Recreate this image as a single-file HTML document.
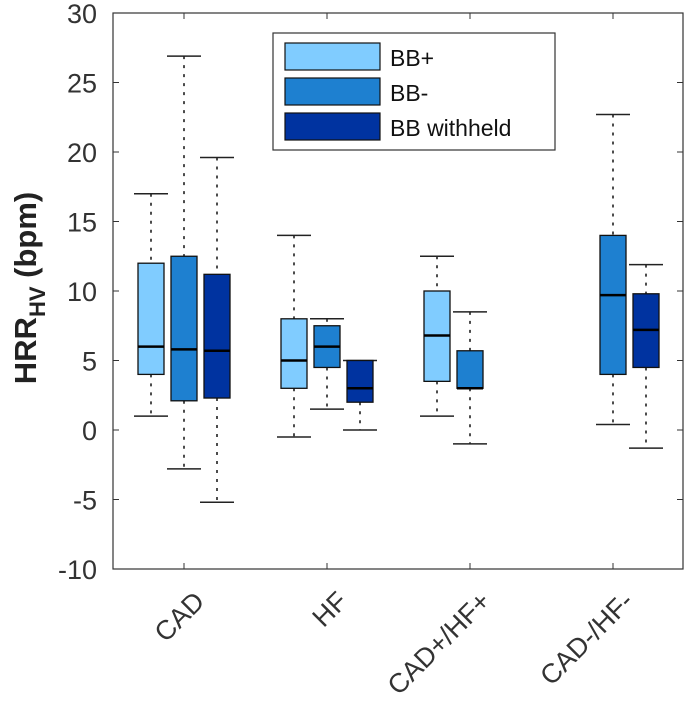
<!DOCTYPE html>
<html><head><meta charset="utf-8"><style>
body{margin:0;background:#fff;}
svg{display:block;font-family:"Liberation Sans",Arial,sans-serif;}
</style></head><body>
<svg id="chart" width="685" height="711" viewBox="0 0 685 711">
<g id="axes"></g><g id="boxes"></g>
<g>
<rect x="273" y="33" width="282" height="117" fill="#fff" stroke="#333" stroke-width="1.2"/>
<rect x="285" y="43" width="95" height="27" fill="#80ccff" stroke="#111" stroke-width="1.2"/>
<text x="390" y="66" font-size="23" fill="#111">BB+</text>
<rect x="285" y="78" width="95" height="27" fill="#1e80d0" stroke="#111" stroke-width="1.2"/>
<text x="390" y="101" font-size="23" fill="#111">BB-</text>
<rect x="285" y="113" width="95" height="27" fill="#0033a0" stroke="#111" stroke-width="1.2"/>
<text x="390" y="136" font-size="23" fill="#111">BB withheld</text>
</g>
<text transform="translate(36,288) rotate(-90)" text-anchor="middle" font-size="31" font-weight="bold" fill="#222">HRR<tspan font-size="22" dy="9">HV</tspan><tspan dy="-9"> (bpm)</tspan></text>
</svg>
<script>
const categories=["CAD","HF","CAD+/HF+","CAD-/HF-"];
const seriesNames=["BB+","BB-","BB withheld"];
const colors=["#80ccff","#1e80d0","#0033a0"];
const yTicks=[-10,-5,0,5,10,15,20,25,30];
// [categoryIndex, seriesIndex, min, q1, median, q3, max]
const boxStats=[
[0,0,1,4,6,12,17],
[0,1,-2.8,2.1,5.8,12.5,26.9],
[0,2,-5.2,2.3,5.7,11.2,19.6],
[1,0,-0.5,3,5,8,14],
[1,1,1.5,4.5,6,7.5,8],
[1,2,0,2,3,5,5],
[2,0,1,3.5,6.8,10,12.5],
[2,1,-1,3,3,5.7,8.5],
[3,1,0.4,4,9.7,14,22.7],
[3,2,-1.3,4.5,7.2,9.8,11.9]
];
const L=113,R=683,T=13,B=569,ymin=-10,ymax=30;
const y=v=>B-(v-ymin)/(ymax-ymin)*(B-T);
const x=i=>184+i*143;
const off=s=>(s-1)*33;
const NS="http://www.w3.org/2000/svg";
function mk(tag,attrs,parent){const e=document.createElementNS(NS,tag);for(const k in attrs)e.setAttribute(k,attrs[k]);parent.appendChild(e);return e;}
const ax=document.getElementById('axes');
const frame=mk('rect',{x:L,y:T,width:R-L,height:B-T,fill:'none',stroke:'#333','stroke-width':1.2},ax);


yTicks.forEach(v=>{
 const yy=y(v);
 mk('line',{x1:L,x2:L+6,y1:yy,y2:yy,stroke:'#333'},ax);
 mk('line',{x1:R-6,x2:R,y1:yy,y2:yy,stroke:'#333'},ax);
 const t=mk('text',{x:97,y:yy+10,'text-anchor':'end','font-size':27,fill:'#333'},ax);
 t.textContent=v;
 
 
});
categories.forEach((c,i)=>{
 const xx=x(i);
 mk('line',{x1:xx,x2:xx,y1:B,y2:B-6,stroke:'#333'},ax);
 mk('line',{x1:xx,x2:xx,y1:T,y2:T+6,stroke:'#333'},ax);
 const t=mk('text',{transform:`translate(${xx+22},${B+34}) rotate(-45)`,'text-anchor':'end','font-size':27,fill:'#333'},ax);
 t.textContent=c;
 
 
});
const bx=document.getElementById('boxes');
boxStats.forEach(d=>{
 const [ci,si,mn,q1,md,q3,mx]=d;
 const cx=x(ci)+off(si),w=26,cw=34;
 const g=mk('g',{},bx);
 
 
 mk('line',{x1:cx,x2:cx,y1:y(mx),y2:y(q3),stroke:'#111','stroke-width':1.5,'stroke-dasharray':'3,6'},g);
 mk('line',{x1:cx,x2:cx,y1:y(q1),y2:y(mn),stroke:'#111','stroke-width':1.5,'stroke-dasharray':'3,6'},g);
 mk('line',{x1:cx-cw/2,x2:cx+cw/2,y1:y(mx),y2:y(mx),stroke:'#222','stroke-width':1.5},g);
 mk('line',{x1:cx-cw/2,x2:cx+cw/2,y1:y(mn),y2:y(mn),stroke:'#222','stroke-width':1.5},g);
 mk('rect',{x:cx-w/2,y:y(q3),width:w,height:y(q1)-y(q3),fill:colors[si],stroke:'#111','stroke-width':1.3},g);
 mk('line',{x1:cx-w/2,x2:cx+w/2,y1:y(md),y2:y(md),stroke:'#000','stroke-width':2.5},g);
});
</script>
</body></html>
